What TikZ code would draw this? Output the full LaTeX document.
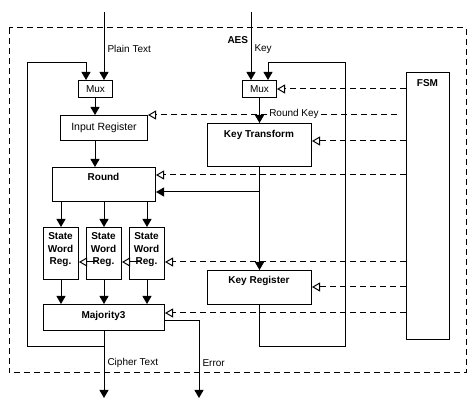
\documentclass[tikz,border=0pt]{standalone}
\usepackage{fontspec}
\setmainfont{Liberation Sans}
\usetikzlibrary{arrows.meta}
\begin{document}
\begin{tikzpicture}[x=1pt,y=-1pt,
  line width=1pt,
  box/.style={draw, fill=white, inner sep=0pt, anchor=north west},
  txt/.style={inner sep=0pt, font=\fontsize{10}{12.5}\selectfont},
  btxt/.style={inner sep=0pt, font=\fontsize{10}{12.5}\selectfont\bfseries, align=center},
  arr/.style={-{Triangle[length=8pt,width=9pt]}},
  ctl/.style={dash pattern=on 6pt off 4pt, -{Triangle[open,length=8pt,width=9pt,fill=white]}},
  ctlsolid/.style={-{Triangle[open,length=8pt,width=9pt,fill=white]}}
]
\path[use as bounding box] (0,0) rectangle (474,411);
% outer AES boundary
\draw[dash pattern=on 6pt off 4pt] (9,28) rectangle (466,373);
\node[btxt, anchor=west] (aes) at (227,40) {AES};

% boxes
\node[box, minimum width=34pt, minimum height=17pt] (muxP) at (78,80) {};
\node[box, minimum width=87pt, minimum height=25pt] (inreg) at (60,115) {};
\node[box, minimum width=103pt, minimum height=34pt] (round) at (52,167) {};
\node[box, minimum width=35pt, minimum height=52pt] (swr1) at (43,227) {};
\node[box, minimum width=35pt, minimum height=52pt] (swr2) at (86,227) {};
\node[box, minimum width=35pt, minimum height=52pt] (swr3) at (129,227) {};
\node[box, minimum width=121pt, minimum height=26pt] (maj) at (43,304) {};
\node[box, minimum width=34pt, minimum height=17pt] (muxK) at (242,80) {};
\node[box, minimum width=104pt, minimum height=43pt] (keyT) at (207,123) {};
\node[box, minimum width=104pt, minimum height=34pt] (keyR) at (207,270) {};
\node[box, minimum width=43pt, minimum height=267pt] (fsm) at (406,72) {};

% coordinates
\coordinate (ptin) at (104,12);
\coordinate (kin) at (251,12);
\coordinate (ctout) at (104,398);
\coordinate (errout) at (199,398);
\coordinate (fbL) at (104,347);
\coordinate (rkstart) at (397,115);

% inputs
\draw[arr] (ptin) -- (ptin |- muxP.north);
\draw[arr] (kin) -- (kin |- muxK.north);
\node[txt, anchor=west] (ptl) at (107,49) {Plain Text};
\node[txt, anchor=west] (kl) at (254,49) {Key};

% left feedback
\draw[arr] (fbL) -- (27,347) -- (27,63) -- (86,63) -- (86,80);
% data path
\draw[arr] (95,97) -- (95,115);
\draw[arr] (inreg.south -| 95,0) -- (95,167);
\draw[arr] (swr1.center |- round.south) -- (swr1.north);
\draw[arr] (swr2.center |- round.south) -- (swr2.north);
\draw[arr] (swr3.center |- round.south) -- (swr3.north);
\draw[arr] (swr1.south) -- (swr1.center |- maj.north);
\draw[arr] (swr2.south) -- (swr2.center |- maj.north);
\draw[arr] (swr3.south) -- (swr3.center |- maj.north);
\draw[arr] (maj.south -| ctout) -- (ctout);
\draw[arr] (maj.east |- 0,321) -- (199,321) -- (errout);
\node[txt, anchor=west] (ctl) at (107,363) {Cipher Text};
\node[txt, anchor=west] (errl) at (202,363) {Error};

% key path
\draw[arr] (muxK.south) -- (keyT.north);
\draw[arr] (keyT.south) -- (keyR.north);
\draw[arr] (259,192) -- (round.east |- 0,192);
\draw[arr] (259,304) -- (259,347) -- (345.5,347) -- (345.5,63) -- (268,63) -- (268,80);

% control lines from FSM
\draw[ctl] (fsm.west |- 0,89) -- (muxK.east);
\draw[ctl] (rkstart) -- (inreg.north east);
\node[txt, fill=white, inner xsep=1pt, inner ysep=1pt] (rkl) at (294,114) {Round Key};
\draw[ctl] (fsm.west |- 0,141) -- (keyT.east |- 0,141);
\draw[ctl] (fsm.west |- 0,175) -- (round.east |- 0,175);
\draw[ctl] (fsm.west |- 0,262) -- (swr3.east |- 0,262);
\draw[ctlsolid] (140,262) -- (swr2.east |- 0,262);
\draw[ctlsolid] (97,262) -- (swr1.east |- 0,262);
\draw[ctl] (fsm.west |- 0,287) -- (keyR.east |- 0,287);
\draw[ctl] (fsm.west |- 0,313) -- (maj.east |- 0,313);

% texts
\node[txt] (muxPt) at (muxP.center) {Mux};
\node[txt] (muxKt) at (muxK.center) {Mux};
\node[txt, font=\fontsize{10.5}{12.5}\selectfont] (inregt) at (inreg.center) {Input Register};
\node[btxt] (roundt) at (103.5,177) {Round};
\node[btxt] (keyTt) at (259,135) {Key Transform};
\node[btxt] (keyRt) at (259,281) {Key Register};
\node[btxt] (majt) at (103.5,316) {Majority3};
\node[btxt] (fsmt) at (427.5,83) {FSM};
\node[btxt] (swr1t) at (60.5,250) {State\\Word\\Reg.};
\node[btxt] (swr2t) at (103.5,250) {State\\Word\\Reg.};
\node[btxt] (swr3t) at (146.5,250) {State\\Word\\Reg.};
\end{tikzpicture}
\end{document}
